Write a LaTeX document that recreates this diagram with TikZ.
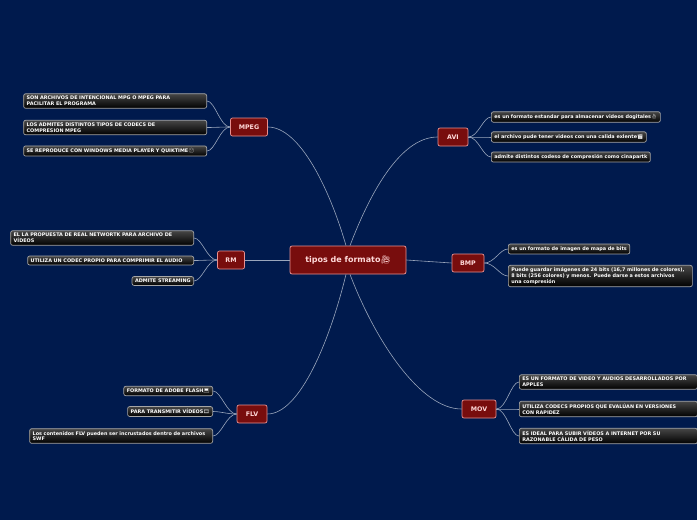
\documentclass[tikz,border=0pt]{standalone}
\usepackage{fontspec}
\setmainfont{DejaVu Sans}
\newfontfamily\emo{Noto Emoji}
\definecolor{bg}{HTML}{001A4D}
\definecolor{redf}{HTML}{780D0D}
\definecolor{redd}{HTML}{E89090}
\definecolor{lnk}{HTML}{9AA6BC}
\begin{document}
\begin{tikzpicture}[x=1pt,y=-1pt,
 main/.style={draw=redd,fill=redf,rounded corners=2pt,line width=0.8pt,text=white!85!red,font=\bfseries\fontsize{8}{9}\selectfont,minimum width=116,minimum height=28},
 br/.style={draw=redd,fill=redf,rounded corners=2pt,line width=0.7pt,text=white!85!red,font=\bfseries\fontsize{6.3}{7}\selectfont,minimum height=18,inner xsep=4pt},
 leaf/.style={draw=gray!70,top color=gray!55!black,bottom color=black,rounded corners=2pt,line width=0.7pt,text=white!90,font=\bfseries\fontsize{4.9}{5.6}\selectfont,align=left,inner xsep=3pt,inner ysep=2.6pt},
 lk/.style={draw=lnk,line width=0.6pt}]
\fill[bg] (0,0) rectangle (697,520);
\useasboundingbox (0,0) rectangle (697,520);
\node[main] (c) at (348,260) {tipos de formato{\emo 🎥}};
\node[br,minimum width=37] (mp) at (249,127) {MPEG};
\node[br,minimum width=30] (av) at (453,137) {AVI};
\node[br,minimum width=27] (rm) at (231,260) {RM};
\node[br,minimum width=32] (bm) at (468,263) {BMP};
\node[br,minimum width=30] (fl) at (252,414) {FLV};
\node[br,minimum width=34] (mo) at (479,409) {MOV};
% leaves MPEG
\node[leaf,text width=177,anchor=east] (m1) at (207,101) {SON ARCHIVOS DE INTENCIONAL MPG O MPEG PARA\\PACILITAR EL PROGRAMA};
\node[leaf,text width=177,anchor=east] (m2) at (207,127.5) {LOS ADMITES DISTINTOS TIPOS DE CODECS DE\\COMPRESION MPEG};
\node[leaf,text width=177,anchor=east] (m3) at (207,151) {SE REPRODUCE CON WINDOWS MEDIA PLAYER Y QUIKTIME{\emo 😕}};
% RM
\node[leaf,text width=177,anchor=east] (r1) at (194,238) {EL LA PROPUESTA DE REAL NETWORTK PARA ARCHIVO DE\\VÍDEOS};
\node[leaf,text width=160,anchor=east] (r2) at (194,260.5) {UTILIZA UN CODEC PROPIO PARA COMPRIMIR EL AUDIO};
\node[leaf,anchor=east] (r3) at (194,281) {ADMITE STREAMING};
% FLV
\node[leaf,anchor=east] (f1) at (213,391) {FORMATO DE ADOBE FLASH{\emo 💻}};
\node[leaf,anchor=east] (f2) at (213,411.5) {PARA TRANSMITIR VÍDEOS{\emo 🎞}};
\node[leaf,text width=177,anchor=east] (f3) at (213,436) {Los contenidos FLV pueden ser incrustados dentro de archivos\\SWF};
% AVI
\node[leaf,anchor=west] (a1) at (491,117) {es un formato estandar para almacenar videos dogitales{\emo 👌}};
\node[leaf,anchor=west] (a2) at (491,137) {el archivo pude tener videos con una calida exlente{\emo 🎬}};
\node[leaf,anchor=west] (a3) at (491,157) {admite distintos codeso de compresión como cinapartk};
% BMP
\node[leaf,anchor=west] (b1) at (508,249) {es un formato  de imagen de mapa de bits};
\node[leaf,text width=178,anchor=west] (b2) at (508,276) {Puede guardar imágenes de 24 bits (16,7 millones de colores),\\8 bits (256 colores) y menos. Puede darse a estos archivos\\una compresión};
% MOV
\node[leaf,text width=172,anchor=west] (o1) at (519,382) {ES UN FORMATO DE VIDEO Y AUDIOS DESARROLLADOS POR\\APPLES};
\node[leaf,text width=172,anchor=west] (o2) at (519,409) {UTILIZA CODECS PROPIOS QUE EVALÚAN EN VERSIONES\\CON  RAPIDEZ};
\node[leaf,text width=172,anchor=west] (o3) at (519,436) {ES IDEAL PARA SUBIR VÍDEOS A INTERNET POR SU\\RAZONABLE CÁLIDA DE PESO};
% center links
\draw[lk] ([xshift=-2]c.north) .. controls (330,190) and (300,127) .. (mp.east);
\draw[lk] ([xshift=2]c.north) .. controls (375,180) and (405,137) .. (av.west);
\draw[lk] (c.west) -- (rm.east);
\draw[lk] (c.east) -- (bm.west);
\draw[lk] ([xshift=-2]c.south) .. controls (330,340) and (300,414) .. (fl.east);
\draw[lk] ([xshift=2]c.south) .. controls (375,340) and (420,409) .. (mo.west);
% leaf links
\foreach \l in {m1,m2,m3} \draw[lk] (mp.west) .. controls +(-10,0) and +(8,0) .. (\l.east);
\foreach \l in {r1,r2,r3} \draw[lk] (rm.west) .. controls +(-10,0) and +(8,0) .. (\l.east);
\foreach \l in {f1,f2,f3} \draw[lk] (fl.west) .. controls +(-10,0) and +(8,0) .. (\l.east);
\foreach \l in {a1,a2,a3} \draw[lk] (av.east) .. controls +(10,0) and +(-8,0) .. (\l.west);
\foreach \l in {b1,b2} \draw[lk] (bm.east) .. controls +(10,0) and +(-8,0) .. (\l.west);
\foreach \l in {o1,o2,o3} \draw[lk] (mo.east) .. controls +(10,0) and +(-8,0) .. (\l.west);
\end{tikzpicture}
\end{document}
